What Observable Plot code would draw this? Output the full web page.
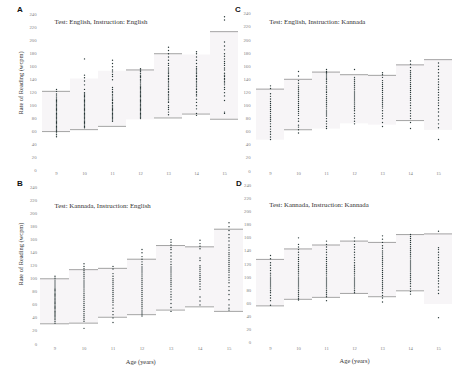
<!DOCTYPE html>
<html><head><meta charset="utf-8">
<script src="https://cdn.jsdelivr.net/npm/d3@7"></script>
<script src="https://cdn.jsdelivr.net/npm/@observablehq/plot@0.6"></script>
<style>
body{margin:0;background:#fff;}
#root{position:relative;width:474px;height:375px;overflow:hidden;background:#fff;}
.panel{position:absolute;}
.letter{position:absolute;font:bold 8px "Liberation Sans",sans-serif;color:#111;line-height:1;}
.panel g[aria-label$="tick label"]{fill:#808080;}
</style></head><body><div id="root"></div>
<script>
const ages = [9, 10, 11, 12, 13, 14, 15];
const yTicks = [0, 20, 40, 60, 80, 100, 120, 140, 160, 180, 200, 220, 240];
const yLabel = "Rate of Reading (wcpm)";
const xLabel = "Age (years)";

// Panel A: Test English, Instruction English
const titleA = "Test: English, Instruction: English";
const hiA = [122, 141, 153, 155, 180, 178, 214];
const loA = [60, 63, 68, 78, 81, 87, 79];
const lineHiA = [122, null, null, 155, 180, null, 214];
const lineLoA = [60, 63, 68, null, 81, 87, 79];
const dotsA = [
  [125,122,118,115,112,110,108,106,104,102,100,98,96,94,92,90,88,86,84,82,80,78,76,74,72,70,68,66,64,62,60,58,55,52],
  [172,147,143,138,132,125,120,118,116,114,112,110,108,106,104,102,100,98,96,94,92,90,88,86,84,82,80,78,76,74,72,70,68,66],
  [170,165,160,155,152,148,145,140,128,125,122,120,117,115,112,110,108,105,103,100,98,96,94,92,90,88,86,84,82,80,78,76],
  [157,155,153,150,147,145,143,140,138,135,132,130,128,126,124,122,120,118,116,114,112,110,108,106,104,102,100,98,96,94,92,90,88,86,84,82,80],
  [190,185,180,175,170,165,162,158,155,152,150,147,145,142,140,137,135,132,130,127,125,122,120,117,115,112,110,107,105,100,97,94,90,86],
  [183,180,175,170,165,160,157,155,152,150,147,145,142,140,137,135,132,130,127,125,122,120,117,115,110,105,100,95,88,85],
  [237,232,198,192,186,180,176,172,168,165,162,158,155,150,147,145,142,140,137,135,132,128,125,120,115,108,90,88]
];

// Panel C: Test English, Instruction Kannada
const titleC = "Test: English, Instruction: Kannada";
const hiC = [125, 140, 151, 147, 146, 162, 170];
const loC = [47, 63, 64, 72, 70, 77, 62];
const lineHiC = [125, 140, 151, 147, 146, 162, 170];
const lineLoC = [null, 63, null, null, null, 77, null];
const dotsC = [
  [130,126,118,114,110,106,103,100,97,94,91,88,85,82,79,76,72,68,64,60,56,52,48],
  [152,145,138,134,130,127,124,121,118,115,112,109,106,103,100,97,94,91,88,85,80,76,70,67,63,58],
  [155,152,150,148,145,142,140,137,134,130,128,125,122,120,117,114,111,108,105,102,99,96,93,90,87,84,80,76,72,68,65],
  [155,143,140,137,134,131,128,125,122,119,116,113,110,107,104,101,98,95,92,88,84,80,76,72],
  [150,147,143,138,135,132,129,126,123,120,117,114,111,108,105,102,99,96,92,88,84,80,74,68],
  [168,163,158,153,150,147,144,141,138,135,132,129,126,123,120,117,114,111,108,104,100,96,92,88,84,80,74,65],
  [165,160,155,150,145,140,136,132,128,124,120,116,112,108,104,100,95,90,84,78,72,66,48]
];

// Panel B: Test Kannada, Instruction English
const titleB = "Test: Kannada, Instruction: English";
const hiB = [100, 114, 116, 130, 151, 149, 176];
const loB = [31, 32, 41, 45, 52, 57, 50];
const lineHiB = [100, 114, 116, 130, 151, 149, 176];
const lineLoB = [31, 32, 41, 45, 52, 57, 50];
const dotsB = [
  [104,101,98,95,92,89,86,84,82,80,78,76,74,72,70,68,66,64,62,60,58,56,54,52,50,48,46,44,42,40,38,35,32],
  [123,119,116,113,110,107,104,101,98,95,92,89,86,83,80,77,74,71,68,65,62,59,56,53,50,47,44,41,38,35,24],
  [119,115,108,104,100,97,94,91,88,85,82,79,76,73,70,67,64,60,55,50,45,40,33],
  [145,140,134,130,126,122,118,115,112,109,106,103,100,97,94,91,88,85,82,79,76,73,70,67,64,61,58,55,52,49,46,43],
  [160,156,152,148,145,140,135,130,126,122,118,115,112,109,106,103,100,97,94,91,88,84,80,76,72,68,62,56,50],
  [159,154,150,146,132,128,120,117,114,111,108,105,102,99,96,92,88,84,72,66,60],
  [186,180,174,168,163,158,152,148,144,140,137,134,131,128,125,122,119,116,113,110,106,102,98,94,88,82,76,68,60,55,52]
];

// Panel D: Test Kannada, Instruction Kannada
const titleD = "Test: Kannada, Instruction: Kannada";
const hiD = [127, 143, 149, 155, 153, 165, 166];
const loD = [56, 66, 69, 75, 70, 79, 58];
const lineHiD = [127, 143, 149, 155, 153, 165, 166];
const lineLoD = [56, 66, 69, 75, 70, 79, null];
const dotsD = [
  [133,128,122,118,114,110,106,103,100,97,94,91,88,85,82,79,76,72,68,64,57],
  [160,150,146,142,138,134,130,127,124,121,118,115,112,109,106,103,100,97,94,91,88,85,82,79,76,73,70,67,65],
  [155,150,146,142,138,134,130,127,124,121,118,115,112,109,106,103,100,97,94,91,88,85,82,79,76,73,70,64],
  [160,155,150,146,142,138,134,130,126,122,118,115,112,109,106,103,100,97,94,91,88,85,82,79,76],
  [163,158,153,148,144,140,137,134,131,128,125,122,119,116,113,110,107,104,101,98,95,92,89,86,83,80,76,72,68,62],
  [165,162,159,156,153,150,147,144,141,138,135,132,129,126,123,120,117,114,111,108,105,102,99,96,93,90,86,82,78,74],
  [170,145,142,138,134,130,126,122,118,114,110,106,102,98,94,90,85,80,75,38]
];

const panels = [
  {letter:"A", title:titleA, hi:hiA, lo:loA, lineHi:lineHiA, lineLo:lineLoA, dots:dotsA,
   left:0, top:0, width:240, height:185, mL:39, mR:0, mT:14.3, mB:15, xPad:1.5,
   tdx:15, tdy:6.7, ylab:true, ydx:-19, ydy:-9.7, xlab:false},
  {letter:"C", title:titleC, hi:hiC, lo:loC, lineHi:lineHiC, lineLo:lineLoC, dots:dotsC,
   left:237, top:0, width:237, height:185, mL:16, mR:19, mT:13.3, mB:14.5, xPad:1,
   tdx:15.7, tdy:7.7, ylab:false, xlab:false},
  {letter:"B", title:titleB, hi:hiB, lo:loB, lineHi:lineHiB, lineLo:lineLoB, dots:dotsB,
   left:0, top:185, width:243, height:190, mL:39.5, mR:0, mT:2, mB:31.5, xPad:2.5,
   tdx:14.5, tdy:18, ylab:true, ydx:-19.5, ydy:-11.7, xlab:true, xdx:-1, xdy:17.5},
  {letter:"D", title:titleD, hi:hiD, lo:loD, lineHi:lineHiD, lineLo:lineLoD, dots:dotsD,
   left:237, top:185, width:237, height:190, mL:16.6, mR:19.5, mT:0, mB:33, xPad:4,
   tdx:15.1, tdy:19, ylab:false, xlab:true, xdx:0, xdy:18}
];

const root = document.getElementById("root");
const serif = "'Liberation Serif', 'DejaVu Serif', serif";

for (const p of panels) {
  const bands = ages.map((a, i) => ({age: a, hi: p.hi[i], lo: p.lo[i], lineHi: p.lineHi[i], lineLo: p.lineLo[i]}));
  const points = ages.flatMap((a, i) => p.dots[i].map(v => ({age: a, v})));
  const marks = [
    Plot.barY(bands, {x: "age", y1: "lo", y2: "hi", fill: "#f7f5f7"}),
    Plot.tickY(bands.filter(d => d.lineHi != null), {x: "age", y: "lineHi", stroke: "#9a9a9a", strokeWidth: 0.9}),
    Plot.tickY(bands.filter(d => d.lineLo != null), {x: "age", y: "lineLo", stroke: "#9a9a9a", strokeWidth: 0.9}),
    Plot.dot(points, {x: "age", y: "v", r: 0.7, fill: "#263535", stroke: null}),
    Plot.text([p.title], {frameAnchor: "top-left", dx: p.tdx, dy: p.tdy, lineAnchor: "middle", textAnchor: "start",
      fontSize: 6.8, fontFamily: serif, fill: "#333"})
  ];
  if (p.ylab) marks.push(Plot.text([yLabel], {frameAnchor: "left", rotate: -90, dx: p.ydx, dy: p.ydy,
      textAnchor: "middle", lineAnchor: "middle", fontSize: 6.4, fontFamily: serif, fill: "#333"}));
  if (p.xlab) marks.push(Plot.text([xLabel], {frameAnchor: "bottom", dx: p.xdx, dy: p.xdy,
      textAnchor: "middle", lineAnchor: "middle", fontSize: 6.4, fontFamily: serif, fill: "#333"}));
  const svg = Plot.plot({
    width: p.width, height: p.height,
    marginLeft: p.mL, marginRight: p.mR, marginTop: p.mT, marginBottom: p.mB,
    style: {background: "transparent", fontSize: "4.7px", fontFamily: serif, overflow: "visible"},
    x: {type: "band", domain: ages, padding: 0, tickSize: 0, tickPadding: p.xPad, label: null},
    y: {domain: [0, 240], ticks: yTicks, tickSize: 0, tickPadding: 3, label: null},
    marks
  });
  const div = document.createElement("div");
  div.className = "panel";
  div.style.left = p.left + "px";
  div.style.top = p.top + "px";
  div.appendChild(svg);
  root.appendChild(div);
}

const letters = [["A", 17, 6], ["C", 235, 6], ["B", 17, 180], ["D", 236, 180]];
for (const [t, x, y] of letters) {
  const d = document.createElement("div");
  d.className = "letter";
  d.textContent = t;
  d.style.left = x + "px";
  d.style.top = y + "px";
  root.appendChild(d);
}
</script></body></html>
